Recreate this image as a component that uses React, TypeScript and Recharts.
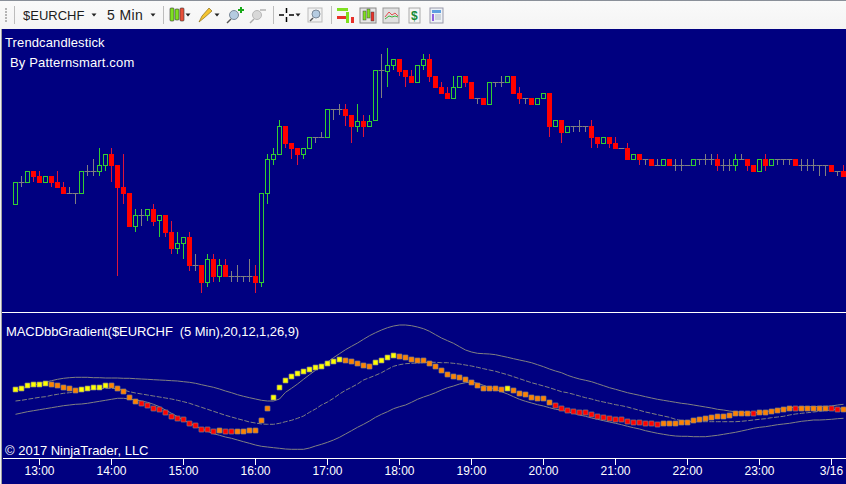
import React from 'react';
import { ComposedChart, Bar, Line, XAxis, YAxis } from 'recharts';

// price in ticks above the session low (the pane has no price scale)
const opens = [
  16, 20, 20, 22, 21, 20, 21, 20, 19, 18, 18, 18, 22, 22, 22, 23, 25, 23, 19, 18,
  12, 14, 14, 15, 13, 14, 11, 8, 9, 10, 5, 5, 2, 6, 3, 5, 3, 3, 3, 3,
  3, 2, 18, 24, 25, 30, 27, 26, 25, 26, 28, 28, 28, 33, 33, 33, 32, 30, 31, 30,
  31, 40, 40, 41, 42, 40, 39, 38, 41, 42, 39, 37, 36, 35, 37, 39, 38, 35, 35, 34,
  38, 38, 38, 39, 36, 35, 35, 34, 35, 36, 30, 31, 29, 30, 30, 30, 30, 28, 27, 28,
  27, 26, 26, 24, 25, 24, 24, 23, 23, 24, 23, 23, 23, 23, 24, 24, 24, 24, 23, 23,
  23, 24, 24, 23, 22, 24, 23, 24, 24, 24, 24, 23, 23, 23, 23, 23, 23, 22, 22,
];
const closes = [
  20, 20, 22, 21, 20, 21, 20, 19, 18, 18, 18, 22, 22, 22, 23, 25, 23, 19, 18, 12,
  14, 14, 15, 13, 14, 11, 8, 9, 10, 5, 5, 2, 6, 3, 5, 3, 3, 3, 3, 3,
  2, 18, 24, 25, 30, 27, 26, 25, 26, 28, 28, 28, 33, 33, 33, 32, 30, 31, 30, 31,
  40, 40, 41, 42, 40, 39, 38, 41, 42, 39, 37, 36, 35, 37, 39, 38, 35, 35, 34, 38,
  38, 38, 39, 36, 35, 35, 34, 35, 36, 30, 31, 29, 30, 30, 30, 30, 28, 27, 28, 27,
  26, 26, 24, 25, 24, 24, 23, 23, 24, 23, 23, 23, 23, 24, 24, 24, 24, 23, 23, 23,
  24, 24, 23, 22, 24, 23, 24, 24, 24, 24, 23, 23, 23, 23, 23, 23, 22, 22, 21,
];
const highs = [
  20, 21, 22, 22, 22, 21, 21, 22, 20, 19, 18, 22, 23, 24, 26, 25, 26, 23, 25, 18,
  15, 15, 15, 16, 14, 14, 13, 11, 10, 11, 7, 5, 7, 7, 6, 6, 4, 5, 3, 6,
  5, 18, 25, 26, 31, 30, 27, 26, 26, 28, 28, 29, 33, 33, 34, 34, 32, 34, 32, 32,
  40, 43, 44, 42, 42, 40, 40, 41, 43, 43, 39, 38, 37, 39, 39, 39, 38, 35, 35, 38,
  38, 39, 39, 39, 37, 35, 35, 35, 36, 36, 31, 31, 30, 30, 31, 30, 31, 28, 28, 28,
  28, 26, 27, 25, 25, 24, 24, 24, 24, 24, 24, 24, 23, 24, 24, 25, 25, 25, 24, 24,
  25, 25, 24, 23, 24, 25, 24, 24, 24, 24, 24, 24, 24, 24, 23, 23, 23, 22, 23,
];
const lows = [
  16, 19, 20, 20, 20, 20, 19, 19, 18, 18, 16, 18, 21, 21, 21, 22, 20, 3, 16, 12,
  11, 12, 13, 12, 10, 10, 7, 7, 6, 4, 4, 0, 1, 2, 2, 3, 2, 2, 2, 2,
  0, 1, 16, 23, 25, 26, 24, 23, 24, 26, 27, 28, 28, 31, 32, 30, 27, 29, 28, 30,
  31, 35, 37, 40, 39, 37, 38, 38, 40, 38, 37, 36, 35, 35, 37, 37, 35, 34, 34, 34,
  37, 37, 38, 36, 34, 34, 34, 34, 35, 28, 30, 27, 29, 29, 29, 29, 26, 26, 27, 26,
  26, 26, 24, 24, 23, 23, 23, 23, 23, 23, 22, 22, 23, 23, 23, 23, 23, 22, 22, 22,
  22, 24, 22, 22, 22, 22, 23, 23, 23, 23, 23, 22, 22, 22, 21, 21, 22, 21, 21,
];

const macd = [
  70, 71, 74, 75, 75, 76, 75, 74, 72, 71, 69, 70, 71, 72, 72, 74, 74, 71, 68, 62,
  58, 56, 54, 51, 50, 46.7, 43, 41, 39.7, 36, 34, 30, 30, 28, 28.7, 28, 28, 28, 28, 29,
  29, 39, 51, 62, 72, 79.3, 83.3, 86.3, 88.3, 90.3, 92.3, 93, 96.3, 98.3, 100.3, 99.3, 98.3, 96.3, 94.3, 93.3,
  97.3, 99.3, 102.3, 104.3, 103.3, 102.3, 100.3, 99.3, 99.3, 96.3, 93.3, 89.3, 85.3, 83.3, 82.3, 80.3, 77.3, 74.3, 71.3, 71.3,
  71.3, 70.3, 71.3, 69.3, 66.3, 65, 62.3, 61.3, 61.3, 57.3, 54.3, 51.3, 49, 48.3, 47.3, 46.7, 45.3, 43, 42.3, 41,
  40.3, 40, 38.3, 37.3, 37.3, 36.3, 36.3, 35, 36.3, 36.3, 36.3, 37.3, 37.3, 39.3, 40.3, 41.3, 42.3, 43, 43, 44.3,
  46, 46.3, 46.3, 46.3, 47.3, 47.3, 48.3, 49.3, 50.3, 51.3, 51, 51, 51, 51, 51, 51, 51, 50.3, 50.3,
];
// 0 falling (red), 1 mixed (orange), 2 rising (yellow)
const macdGrade = [
  2, 2, 2, 2, 2, 2, 1, 1, 1, 1, 1, 2, 2, 2, 2, 2, 1, 1, 1, 1,
  1, 0, 0, 0, 0, 0, 0, 0, 0, 0, 0, 0, 0, 0, 1, 0, 0, 1, 1, 1,
  1, 1, 1, 2, 2, 2, 2, 2, 2, 2, 2, 2, 2, 2, 2, 1, 1, 1, 1, 1,
  2, 2, 2, 2, 1, 1, 1, 1, 1, 1, 1, 1, 1, 1, 1, 1, 1, 1, 1, 1,
  1, 1, 2, 1, 1, 1, 1, 1, 1, 1, 0, 0, 0, 0, 0, 0, 0, 0, 0, 0,
  0, 0, 0, 0, 0, 0, 0, 0, 1, 1, 1, 1, 1, 1, 1, 1, 1, 1, 1, 1,
  1, 1, 1, 0, 1, 1, 1, 1, 1, 1, 0, 1, 1, 1, 1, 1, 0, 0, 1,
];
const bandUpper = [
  69.7, 71.3, 73, 74.7, 76.3, 78, 79.3, 80.7, 81.7, 82.3, 82.7, 82.7, 82.7, 82.3, 82.3, 82, 82, 82, 81.7, 81.7,
  81.3, 81, 80.7, 80.3, 80, 79.7, 79.3, 79, 78.3, 77.7, 76.7, 75.3, 74, 72.7, 71, 69, 67.3, 65.3, 63.7, 62.3,
  61, 59.7, 59, 59, 61, 67.7, 71.7, 76, 80.7, 85.3, 89.7, 94, 98, 102.3, 106.3, 110.3, 113.7, 117, 120.7, 124.3,
  127.3, 130, 132.3, 134, 135, 135, 134.3, 133, 131.3, 128.7, 125.3, 122, 119.3, 116.7, 113.3, 110, 108, 106.7, 106.3, 106,
  105.3, 104, 102.7, 101.3, 100, 98.7, 97.3, 95.3, 93.3, 91, 89, 87.3, 84.7, 82.7, 81, 79.7, 78.3, 76.3, 74.3, 72.3,
  70.7, 69, 67.3, 66, 64.7, 63.3, 62, 60.7, 59.7, 58.7, 57.7, 56.7, 56, 55, 54, 53, 52, 50.7, 50, 49,
  48.3, 47.7, 47.3, 47.3, 47.7, 48.3, 49.3, 50.7, 51.7, 52.3, 52.7, 53, 53.3, 53.3, 53.7, 53.7, 54, 55, 55.7,
];
const bandMiddle = [
  59, 59.7, 60.7, 61.7, 62.7, 63.3, 64.7, 65.7, 66.7, 67.3, 68, 68.7, 69.7, 70.7, 71.3, 71.7, 71.7, 71.3, 70, 68.3,
  67, 66, 65, 64, 63, 62, 61, 59.7, 58.3, 56.7, 54.7, 52.7, 50.7, 48.7, 46.7, 44.7, 43, 41.3, 39.7, 38,
  37, 36, 35.7, 35.7, 36.7, 38.3, 39.7, 41.7, 44, 47.7, 51, 55, 58, 61.7, 66, 69.7, 72.7, 76, 80, 82.3,
  84.7, 87.3, 90.7, 93.7, 95.3, 96.3, 96.7, 97, 97.3, 97.7, 97.7, 97.3, 97.3, 96.7, 96, 95, 94, 92.7, 91.3, 90,
  88.7, 87, 85.3, 83.3, 81.3, 79.3, 77.3, 75.7, 74, 72.3, 70.3, 68.3, 67.3, 65.7, 64, 62.3, 61, 59.3, 58, 56.7,
  55.3, 54.3, 53, 51.3, 49.7, 48, 46.7, 45.3, 44, 42.7, 40.7, 39.3, 38.7, 38.3, 38.3, 38.3, 38.3, 38.3, 38.3, 38.3,
  38.3, 38.7, 39.3, 40, 40.7, 41.3, 42.3, 43, 43.7, 45, 46, 46.7, 47.3, 48, 48.7, 49.3, 50, 50.7, 51.7,
];
const bandLower = [
  45.7, 47, 48.3, 49.3, 50.3, 51.3, 52.3, 53.3, 54.3, 55, 55.7, 56, 56.7, 57.7, 58.7, 59.7, 60.7, 61.7, 61.7, 61,
  60, 59, 57.7, 55.7, 53.3, 50, 46.7, 43.3, 40, 36.7, 34, 31.3, 28.7, 26.3, 24.7, 23, 21.7, 20, 18.3, 16.7,
  15, 13.7, 13, 12.3, 11.7, 11, 10.7, 10.7, 10.7, 12, 14, 15.7, 17.7, 20, 22.7, 26, 29.3, 32.7, 35.7, 39,
  42.7, 45.7, 48.3, 51.3, 53.3, 55, 57.7, 60.7, 63, 65, 67.3, 70, 72.3, 74, 76, 77.3, 78, 76.7, 74.7, 72.7,
  70.7, 68.3, 66, 63.3, 60.7, 58.7, 57, 55.3, 54, 52.3, 50.7, 50, 48.3, 46.7, 45, 43.7, 42, 40.7, 39.3, 38,
  36.7, 35.3, 33.7, 32.3, 31, 29.3, 28, 26.7, 25.7, 24.7, 24, 23.7, 23.7, 23.3, 23.3, 23.3, 24, 24.7, 25.7, 26.7,
  27.7, 29, 30.3, 31.7, 32.7, 33.3, 34.3, 35.3, 36, 36.7, 37.7, 38.7, 39.3, 40, 40, 40.3, 40.7, 41.3, 41.7,
];

const tickLabels = ['13:00', '14:00', '15:00', '16:00', '17:00', '18:00', '19:00', '20:00', '21:00', '22:00', '23:00', '3/16'];

const NAVY = '#000080';
const UP = '#32CD32';
const DOWN = '#FF0000';
const DOWN_WICK = '#DC143C';
const FLAT = '#808080';
const GRADE_COLORS = ['#FF0000', '#FF8000', '#FFFF00'];

// 5 minute bars starting at 12:40, midnight shows the date instead
const timeLabel = (i: number) => {
  const mins = 12 * 60 + 40 + i * 5;
  if (mins === 24 * 60) return '3/16';
  const h = Math.floor(mins / 60) % 24;
  const m = mins % 60;
  return `${h}:${m < 10 ? '0' : ''}${m}`;
};

const priceData = opens.map((open, i) => ({
  time: timeLabel(i),
  open,
  close: closes[i],
  range: [lows[i], highs[i]],
}));

const indicatorData = macd.map((value, i) => ({
  time: timeLabel(i),
  macd: value,
  grade: macdGrade[i],
  upper: bandUpper[i],
  middle: bandMiddle[i],
  lower: bandLower[i],
}));

const Candle = (props: any) => {
  const { x, y, width, height, payload } = props;
  const { open, close, range } = payload;
  const span = range[1] - range[0];
  const unit = span > 0 ? height / span : 0;
  const cx = Math.floor(x + width / 2) + 0.5;
  const top = Math.round(y + (range[1] - Math.max(open, close)) * unit);
  const bottom = Math.round(y + (range[1] - Math.min(open, close)) * unit);
  const wickTop = Math.round(y);
  const wickBottom = Math.round(y + height);
  const color = close > open ? UP : close < open ? DOWN : FLAT;
  const wick = close < open ? DOWN_WICK : color;
  return (
    <g>
      {wickBottom > wickTop && <line x1={cx} x2={cx} y1={wickTop} y2={wickBottom} stroke={wick} strokeWidth={1} />}
      {close === open && <line x1={cx - 3} x2={cx + 3} y1={top + 0.5} y2={top + 0.5} stroke={FLAT} strokeWidth={1} />}
      {close > open && <rect x={cx - 2} y={top + 0.5} width={4} height={bottom - top} fill={NAVY} stroke={UP} strokeWidth={1} />}
      {close < open && <rect x={cx - 2.5} y={top} width={5} height={bottom - top + 1} fill={DOWN} />}
    </g>
  );
};

const MacdDot = (props: any) => {
  const { cx, cy, payload, index } = props;
  return (
    <rect
      key={index}
      x={Math.floor(cx) - 2}
      y={Math.round(cy) - 3}
      width={5}
      height={5}
      rx={0.5}
      fill={GRADE_COLORS[payload.grade]}
      stroke="#808080"
      strokeOpacity={0.7}
      strokeWidth={1}
    />
  );
};

const label = (left: number, top: number, spacing = 0): React.CSSProperties => ({
  position: 'absolute',
  left,
  top,
  color: '#fff',
  fontFamily: 'Liberation Sans, Arial, sans-serif',
  fontSize: 13,
  lineHeight: '15px',
  letterSpacing: spacing,
  whiteSpace: 'pre',
});

const Caret = ({ x }: { x: number }) => <path d={`M${x - 2.5} 13.5h5l-2.5 3z`} fill="#222" />;

const Toolbar = () => (
  <div style={{ position: 'absolute', left: 0, top: 0, width: 846, height: 29, background: 'linear-gradient(#fafafa, #f4f4f4)' }}>
    <svg width={846} height={29} style={{ position: 'absolute', left: 0, top: 0 }}>
      <rect x={0} y={0} width={846} height={1} fill="#8a9099" />
      {[8, 11, 14, 17, 20].map(y => <rect key={y} x={5} y={y} width={2} height={2} fill="#b5b5b5" />)}
      {[14, 163, 273, 331].map(x => <rect key={x} x={x} y={6} width={1} height={18} fill="#bdbdbd" />)}
      <Caret x={94} />
      <Caret x={153} />
      <g stroke="#333" strokeWidth={0.6}>
        <rect x={170} y={8} width={4} height={13} rx={1} fill="#7fe020" />
        <rect x={175} y={9} width={4} height={11} rx={1} fill="#7fe020" />
        <rect x={180} y={8} width={4} height={13} rx={1} fill="#e8503a" />
      </g>
      <Caret x={188} />
      <path d="M199 22l3-6 7-8 3 3-8 7z" fill="#f4c430" stroke="#8a6d1a" strokeWidth={0.7} />
      <Caret x={217} />
      <circle cx={234} cy={15} r={4.5} fill="#b5cbe0" stroke="#7c8a99" />
      <path d="M231 19l-4 4" stroke="#555" strokeWidth={1.5} />
      <path d="M240 7h2v2h2v2h-2v2h-2v-2h-2v-2h2z" fill="#18a818" />
      <circle cx={257} cy={15} r={4.5} fill="#d8d8d8" stroke="#b8b8b8" />
      <path d="M254 19l-4 4" stroke="#aaa" strokeWidth={1.5} />
      <rect x={260} y={9} width={6} height={2} fill="#c4c4c4" />
      <path d="M279 15h5M289 15h5M286.500 8v5M286.500 17v5" stroke="#000" strokeWidth={1.5} />
      <Caret x={298} />
      <rect x={308} y={8} width={14} height={14} fill="#f2f2f2" stroke="#bbb" />
      <circle cx={316} cy={14} r={4} fill="#b5cbe0" stroke="#7c8a99" />
      <path d="M313 18l-3 3" stroke="#555" strokeWidth={1.5} />
      <rect x={337} y={8} width={11} height={3} fill="#7fe020" />
      <rect x={337} y={16} width={9} height={3} fill="#e8302a" />
      <rect x={346} y={12} width={3} height={11} fill="#7fe020" />
      <rect x={351} y={17} width={3} height={6} fill="#e8302a" />
      <rect x={360} y={8} width={16} height={15} fill="#e6e6e6" stroke="#888" />
      <rect x={363} y={11} width={3} height={9} fill="#7fe020" stroke="#444" strokeWidth={0.5} />
      <rect x={367} y={9} width={3} height={9} fill="#7fe020" stroke="#444" strokeWidth={0.5} />
      <rect x={371} y={12} width={3} height={9} fill="#e8302a" stroke="#444" strokeWidth={0.5} />
      <rect x={383} y={8} width={16} height={15} fill="#e0e0e0" stroke="#999" />
      <path d="M385 17l4-5 3 3 3-2 3 3" fill="none" stroke="#e05050" />
      <path d="M385 19l4-3 3 1 3-1 3 1" fill="none" stroke="#40b040" />
      <rect x={409} y={8} width={11} height={15} fill="#f5f5f5" stroke="#aaa" />
      <text x={411} y={20} fontSize={12} fontWeight={700} fontFamily="Liberation Sans" fill="#138a36">$</text>
      <rect x={430} y={8} width={13} height={15} fill="#eef2f7" stroke="#99a" />
      <rect x={432} y={10} width={9} height={3} fill="#60a0e0" />
      <rect x={432} y={14} width={2} height={7} fill="#9060e0" />
      <path d="M435 15h6M435 17h6M435 19h6" stroke="#b0b8c0" />
    </svg>
    <div style={{ ...label(23, 8), color: '#1c1c1c' }}>$EURCHF</div>
    <div style={{ ...label(107, 8, 0.4), color: '#1c1c1c', fontSize: 14 }}>5 Min</div>
  </div>
);

export default function App() {
  return (
    <div style={{ position: 'fixed', left: 0, top: 0, width: 846, height: 484, overflow: 'hidden', background: NAVY }}>
      <Toolbar />
      <div style={{ position: 'absolute', left: 0, top: 29, width: 1, height: 455, background: '#f0f0f0' }} />
      <div style={{ position: 'absolute', left: 1, top: 29, width: 1, height: 455, background: '#a0a0a0' }} />
      <div style={{ position: 'absolute', left: 0, top: 29 }}>
        <ComposedChart
          width={847}
          height={283}
          data={priceData}
          margin={{ top: 0, right: 0.5, bottom: 0, left: 12.5 }}
          barCategoryGap={0}
        >
          <XAxis dataKey="time" hide />
          <YAxis hide domain={[-3.47, 47.47]} allowDataOverflow />
          <Bar dataKey="range" shape={Candle} isAnimationActive={false} />
        </ComposedChart>
      </div>
      <div style={{ position: 'absolute', left: 2, top: 312, width: 844, height: 1, background: '#fff' }} />
      <div style={{ position: 'absolute', left: 0, top: 313 }}>
        <ComposedChart
          width={847}
          height={171}
          data={indicatorData}
          margin={{ top: 0, right: 0.5, bottom: 0, left: 12.5 }}
        >
          <XAxis
            dataKey="time"
            scale="band"
            ticks={tickLabels}
            interval={0}
            height={25}
            axisLine={false}
            tickSize={6}
            tickMargin={1}
            tickLine={{ stroke: '#fff' }}
            tick={{ fill: '#fff', fontSize: 12, fontFamily: 'Liberation Sans, Arial, sans-serif' }}
          />
          <YAxis hide domain={[1, 147]} allowDataOverflow />
          <Line dataKey="upper" stroke="#808080" strokeWidth={1} dot={false} isAnimationActive={false} />
          <Line dataKey="middle" stroke="#808080" strokeWidth={1} strokeDasharray="5 1.5" dot={false} isAnimationActive={false} />
          <Line dataKey="lower" stroke="#808080" strokeWidth={1} dot={false} isAnimationActive={false} />
          <Line dataKey="macd" stroke="none" dot={MacdDot} isAnimationActive={false} />
        </ComposedChart>
      </div>
      <div style={{ position: 'absolute', left: 3, top: 458, width: 843, height: 1, background: '#fff' }} />
      <div style={label(5, 35, 0.12)}>Trendcandlestick</div>
      <div style={label(10, 55, 0.16)}>By Patternsmart.com</div>
      <div style={label(6, 324, -0.07)}>MACDbbGradient($EURCHF  (5 Min),20,12,1,26,9)</div>
      <div style={label(5, 443)}>© 2017 NinjaTrader, LLC</div>
    </div>
  );
}
